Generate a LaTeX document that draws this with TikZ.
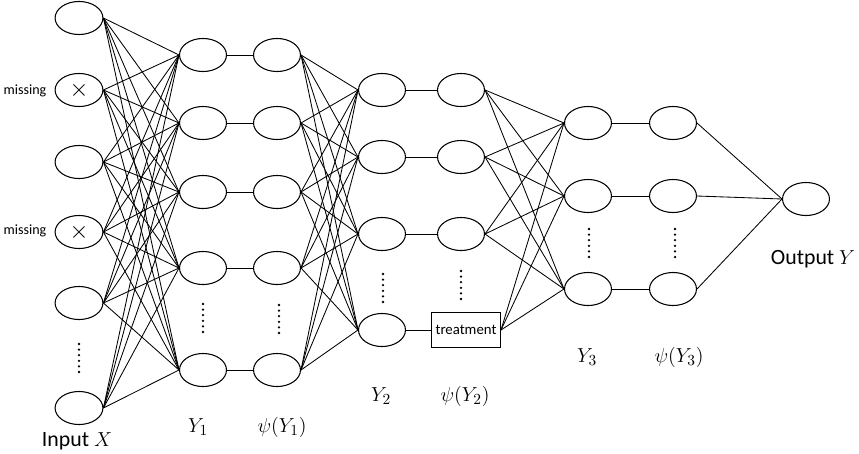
\documentclass[tikz,border=0pt]{standalone}
\usepackage[no-math]{fontspec}
\setmainfont{Carlito}
\usetikzlibrary{shapes.geometric}
\begin{document}
\begin{tikzpicture}[x=0.025cm,y=-0.025cm,
  neuron/.style={draw, ellipse, line width=0.75pt, minimum width=33.4pt, minimum height=23.5pt, inner sep=0pt},
  innode/.style={neuron, minimum width=34pt},
  treatbox/.style={draw, rectangle, line width=0.75pt, minimum width=49pt, minimum height=25pt, inner sep=0pt, font=\fontsize{10.5}{12}\selectfont},
  conn/.style={line width=0.6pt},
  lbl/.style={font=\fontsize{15.5}{18}\selectfont, inner sep=0pt},
  mlbl/.style={font=\fontsize{15}{17}\selectfont, inner sep=0pt},
  small/.style={font=\fontsize{10}{12}\selectfont, inner sep=0pt}
]
\useasboundingbox (0,0) rectangle (859,453);
\newcommand\mydots[2]{\foreach \k in {0,...,5} \fill (#1,#2+\k*5.6) circle[radius=0.9pt];}

% input layer
\node[innode] (x1) at (79,18) {};
\node[innode] (x2) at (79,90) {\fontsize{18}{18}\selectfont$\times$};
\node[innode] (x3) at (79,162) {};
\node[innode] (x4) at (79,232) {\fontsize{18}{18}\selectfont$\times$};
\node[innode] (x5) at (79,303) {};
\node[innode] (x6) at (79,408) {};
\mydots{79}{344}

% Y1 and psi(Y1)
\foreach \i/\y in {1/55,2/123,3/192,4/268,5/370} {
  \node[neuron] (ya\i) at (203,\y) {};
  \node[neuron] (pa\i) at (277,\y) {};
  \draw[conn] (ya\i.east) -- (pa\i.west);
}
\mydots{203}{304}
\mydots{279}{305}

% Y2 and psi(Y2)
\foreach \i/\y in {1/90,2/157,3/234,4/330} {
  \node[neuron] (yb\i) at (382,\y) {};
}
\foreach \i/\y in {1/90,2/157,3/234} {
  \node[neuron] (pb\i) at (461,\y) {};
}
\node[treatbox] (pb4) at (466,330) {treatment};
\foreach \i in {1,...,4} \draw[conn] (yb\i.east) -- (pb\i.west);
\mydots{383}{274}
\mydots{461}{271}

% Y3 and psi(Y3)
\foreach \i/\y in {1/123,2/196,3/289} {
  \node[neuron] (yc\i) at (588,\y) {};
  \node[neuron] (pc\i) at (673,\y) {};
  \draw[conn] (yc\i.east) -- (pc\i.west);
}
\mydots{589}{229}
\mydots{675}{229}

% output
\node[neuron] (out) at (806,199) {};

% full connections
\foreach \i in {1,...,6} \foreach \j in {1,...,5} \draw[conn] (x\i.east) -- (ya\j.west);
\foreach \i in {1,...,5} \foreach \j in {1,...,4} \draw[conn] (pa\i.east) -- (yb\j.west);
\foreach \i in {1,...,4} \foreach \j in {1,...,3} \draw[conn] (pb\i.east) -- (yc\j.west);
\foreach \i in {1,...,3} \draw[conn] (pc\i.east) -- (out.west);

% labels
\node[small] (m1) at (25,91) {missing};
\node[small] (m2) at (25,231) {missing};
\node[lbl] (lin) at (77,441) {Input $X$};
\node[mlbl] (l1) at (198,427) {$Y_1$};
\node[mlbl] (l2) at (282,427) {$\psi(Y_1)$};
\node[mlbl] (l3) at (381,396) {$Y_2$};
\node[mlbl] (l4) at (465,396) {$\psi(Y_2)$};
\node[mlbl] (l5) at (587,357) {$Y_3$};
\node[mlbl] (l6) at (679,357) {$\psi(Y_3)$};
\node[lbl] (lout) at (813,259) {Output $Y$};
\end{tikzpicture}
\end{document}
